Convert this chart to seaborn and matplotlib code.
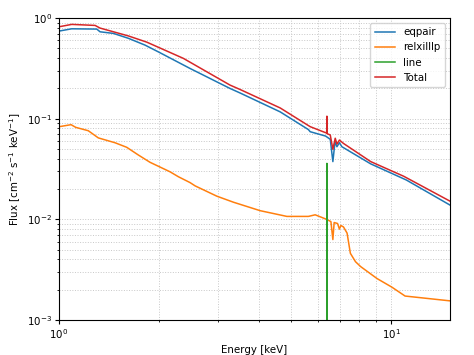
import numpy as np
import pandas as pd
import matplotlib
matplotlib.use("Agg")
import matplotlib.pyplot as plt
import seaborn as sns

# eqpair component
eq_E = [1.0, 1.092, 1.299, 1.329, 1.457, 1.617, 1.815, 2.0, 2.479, 3.27, 3.51, 4.63,
        5.63, 5.70, 6.34, 6.55, 6.67, 6.77, 6.86, 6.98, 7.10, 8.67, 11.1, 15.0]
eq_F = [0.743, 0.783, 0.778, 0.731, 0.705, 0.630, 0.539, 0.458, 0.316, 0.200, 0.180, 0.117,
        0.078, 0.0743, 0.0673, 0.0625, 0.0375, 0.0591, 0.0527, 0.0578, 0.0527, 0.0356, 0.0246, 0.0139]

# relxilllp component
rx_E = [1.0, 1.087, 1.123, 1.225, 1.313, 1.475, 1.599, 1.733, 1.879, 2.158, 2.288, 2.479,
        2.569, 2.985, 3.35, 4.03, 4.85, 5.63, 5.90, 6.39, 6.58, 6.67, 6.73, 6.89, 6.98,
        7.05, 7.18, 7.36, 7.53, 7.80, 8.08, 9.06, 10.04, 11.0, 15.0]
rx_F = [0.0833, 0.0873, 0.0821, 0.0760, 0.0645, 0.0577, 0.0520, 0.0436, 0.0369, 0.0297,
        0.0265, 0.0232, 0.0215, 0.0170, 0.0148, 0.0122, 0.0107, 0.0107, 0.0111, 0.0100,
        0.0095, 0.0063, 0.0093, 0.0091, 0.0080, 0.0087, 0.0084, 0.0073, 0.0046, 0.0038,
        0.0034, 0.00258, 0.00212, 0.00173, 0.00155]

# narrow line component
ln_E = [1.0, 6.39, 6.40, 6.41, 15.0]
ln_F = [1e-10, 1e-10, 0.036, 1e-10, 1e-10]

# total model
tot_E = [1.0, 1.092, 1.284, 1.329, 1.617, 1.837, 2.367, 3.27, 3.51, 4.63, 5.63, 5.70,
         6.34, 6.39, 6.40, 6.41, 6.55, 6.67, 6.78, 6.86, 6.98, 7.18, 8.67, 10.9, 15.0]
tot_F = [0.820, 0.866, 0.846, 0.796, 0.665, 0.577, 0.398, 0.216, 0.195, 0.128, 0.0855, 0.0834,
         0.0727, 0.0725, 0.106, 0.071, 0.069, 0.0497, 0.0640, 0.0560, 0.0614, 0.0568,
         0.0375, 0.0268, 0.0152]

labels = ["eqpair", "relxilllp", "line", "Total"]
frames = []
for lab, E, F in zip(labels, [eq_E, rx_E, ln_E, tot_E], [eq_F, rx_F, ln_F, tot_F]):
    frames.append(pd.DataFrame({"Energy": E, "Flux": F, "Component": lab}))
df = pd.concat(frames, ignore_index=True)

fs = 7.4
plt.rcParams.update({
    "font.size": fs,
    "xtick.major.size": 2.6, "ytick.major.size": 2.6,
    "xtick.minor.size": 1.5, "ytick.minor.size": 1.5,
    "xtick.major.pad": 2.6, "ytick.major.pad": 2.6,
    "axes.labelpad": 3.0,
})
fig = plt.figure(figsize=(4.74, 3.55), dpi=100)
ax = fig.add_axes([0.1245, 0.0986, 0.8245, 0.8504])

palette = {"eqpair": "#1f77b4", "relxilllp": "#ff7f0e", "line": "#2ca02c", "Total": "#d62728"}
sns.lineplot(data=df, x="Energy", y="Flux", hue="Component", hue_order=labels,
             palette=palette, estimator=None, sort=False, linewidth=1.1, ax=ax)

ax.set_xscale("log")
ax.set_yscale("log")
ax.set_xlim(1.0, 15.0)
ax.set_ylim(1e-3, 1.0)
ax.grid(True, which="both", ls=":", color="#c8c8c8", lw=0.7)
ax.set_xlabel("Energy [keV]", fontsize=fs)
ax.set_ylabel("Flux [cm$^{-2}$ s$^{-1}$ keV$^{-1}$]", fontsize=fs)
ax.tick_params(labelsize=fs)
leg = ax.legend(loc="upper right", fontsize=fs)
leg.set_title(None)

fig.savefig("out.png", dpi=100)
